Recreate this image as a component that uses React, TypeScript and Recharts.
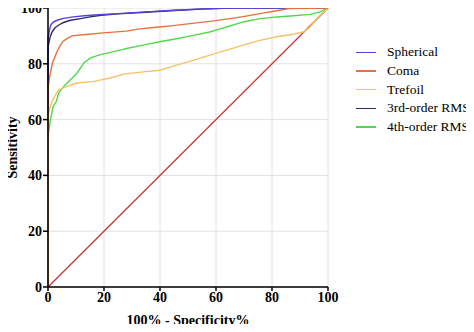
import { LineChart, Line, XAxis, YAxis, CartesianGrid } from "recharts";

const ticks = [0, 20, 40, 60, 80, 100];

// 100% - specificity (x) and sensitivity (y)
const sphericalX = [0, 0, 0.5, 1, 2, 3.5, 5.5, 9, 13, 18, 25, 35, 45, 55, 65, 100];
const sphericalY = [0, 89, 92, 94, 95, 95.7, 96.3, 96.8, 97.2, 97.6, 98, 98.6, 99.2, 99.7, 100, 100];

const comaX = [0, 0, 0.6, 1.6, 3, 4.2, 5.4, 7.2, 8.9, 13.7, 19.7, 28, 32.8, 38.8, 44.7, 50.7, 57.8, 63.8, 69.7, 75.7, 81.7, 86, 100];
const comaY = [0, 71, 75.5, 80.3, 83.9, 86.3, 88.1, 89.3, 90.1, 90.5, 91.1, 91.7, 92.5, 93.1, 93.7, 94.4, 95.2, 96, 96.9, 98, 99, 99.8, 100];

const trefoilX = [0, 0, 0.3, 0.8, 2, 3.8, 6.8, 10.4, 16.3, 22.3, 27, 34, 39.9, 45.9, 51.8, 57.8, 63.8, 69.7, 75.7, 81.7, 87.6, 91.2, 93.6, 96, 100];
const trefoilY = [0, 60, 62.5, 64.7, 67.7, 70.7, 71.9, 73.1, 73.7, 74.9, 76.3, 77.1, 77.7, 79.5, 81.2, 83.1, 84.9, 86.7, 88.4, 89.7, 90.6, 91.4, 93.2, 96.2, 100];

const thirdX = [0, 0, 0.8, 1.5, 2.6, 4, 5.5, 8, 11.6, 15, 19, 25, 35, 45, 55, 65, 100];
const thirdY = [0, 86, 89.8, 91.5, 93, 94, 94.8, 95.6, 96.2, 96.8, 97.4, 97.9, 98.5, 99.1, 99.6, 100, 100];

const fourthX = [0, 0, 0.9, 1.8, 3, 3.8, 5.6, 8, 10.4, 12.8, 15.2, 18.7, 22.3, 26.5, 28, 34, 39.9, 45.9, 51.8, 57.8, 61.4, 63.8, 69.7, 75.7, 81.7, 87.6, 93.6, 97.1, 100];
const fourthY = [0, 54, 60, 64.7, 66.5, 69.5, 71.9, 74.3, 76.7, 80.3, 82.1, 83.3, 84.1, 85.1, 85.5, 86.7, 87.9, 89, 90.2, 91.4, 92.5, 93.2, 95, 96.2, 96.8, 97.2, 97.7, 98.6, 100];

const diagonalX = [0, 100];
const diagonalY = [0, 100];

const toPoints = (xs: number[], ys: number[]) => xs.map((x, i) => ({ x, y: ys[i] }));

const series = [
  { name: "Spherical", color: "#5a3fe0", data: toPoints(sphericalX, sphericalY) },
  { name: "Coma", color: "#e8703c", data: toPoints(comaX, comaY) },
  { name: "Trefoil", color: "#f5c266", data: toPoints(trefoilX, trefoilY) },
  { name: "3rd-order RMS", color: "#2c2d6a", data: toPoints(thirdX, thirdY) },
  { name: "4th-order RMS", color: "#4fd94a", data: toPoints(fourthX, fourthY) },
];

// paint order seen in the picture (orange on top at x = 0)
const drawOrder = ["3rd-order RMS", "Spherical", "4th-order RMS", "Trefoil", "Coma"];

const serif = '"Liberation Serif", "Times New Roman", serif';
const tickStyle = { fill: "#000", fontSize: 14, fontWeight: 700, fontFamily: serif };

const YTitle = (props: any) => {
  const vb = props.viewBox || { x: 0, y: 8, height: 279 };
  const x = vb.x + 17;
  const y = vb.y + vb.height / 2;
  return (
    <text x={x} y={y} transform={`rotate(-90 ${x} ${y})`} textAnchor="middle"
      fontFamily={serif} fontSize={14} fontWeight={700} fill="#000">
      Sensitivity
    </text>
  );
};

const XTitle = (props: any) => {
  const vb = props.viewBox || { x: 48, y: 287, width: 280 };
  return (
    <text x={vb.x + vb.width / 2} y={vb.y + 38} textAnchor="middle"
      fontFamily={serif} fontSize={14} fontWeight={700} fill="#000">
      100% - Specificity%
    </text>
  );
};

export default function App() {
  return (
    <div style={{ position: "relative", width: 474, height: 332, margin: -8, background: "#fff" }}>
      <LineChart width={474} height={332} margin={{ top: 8, right: 146, bottom: 0, left: 0 }}>
        <CartesianGrid stroke="#e0e0e0" strokeWidth={1} />
        <XAxis dataKey="x" type="number" domain={[0, 100]} ticks={ticks} height={45}
          stroke="#000" strokeWidth={1.5} tickSize={4} tickMargin={1} tick={tickStyle}
          label={<XTitle />} />
        <YAxis type="number" domain={[0, 100]} ticks={ticks} width={48}
          stroke="#000" strokeWidth={1.5} tickSize={5} tickMargin={1} tick={tickStyle}
          label={<YTitle />} />
        <Line data={toPoints(diagonalX, diagonalY)} dataKey="y" stroke="#c43a34" strokeWidth={1.3}
          dot={false} isAnimationActive={false} type="linear" />
        {drawOrder.map((n) => {
          const s = series.find((d) => d.name === n)!;
          return (
            <Line key={s.name} data={s.data} dataKey="y" name={s.name} stroke={s.color}
              strokeWidth={1.4} dot={false} isAnimationActive={false} type="linear" />
          );
        })}
      </LineChart>
      <div style={{ position: "absolute", left: 356, top: 43, fontFamily: serif, fontSize: 13.5, color: "#000" }}>
        {series.map((s) => (
          <div key={s.name} style={{ display: "flex", alignItems: "center", height: 18.7 }}>
            <span style={{ display: "inline-block", width: 20, height: 1.5, background: s.color, marginRight: 11 }} />
            <span>{s.name}</span>
          </div>
        ))}
      </div>
    </div>
  );
}
